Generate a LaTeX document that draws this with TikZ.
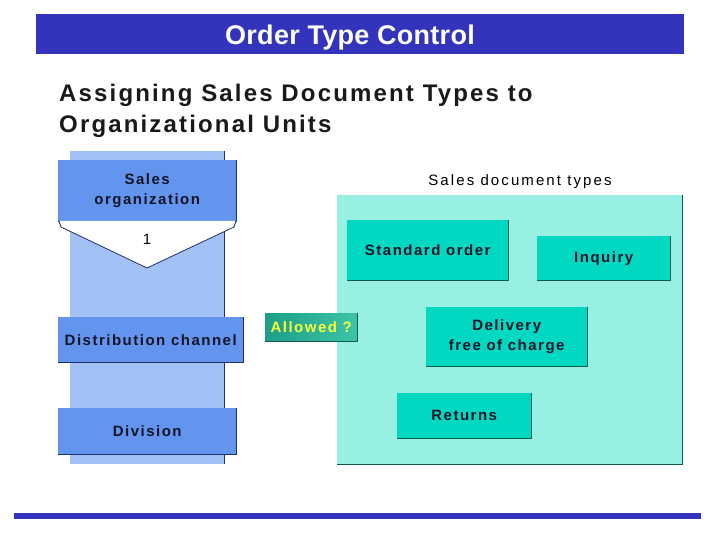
\documentclass[tikz,border=0pt]{standalone}
\usepackage{fontspec}
\setmainfont{Liberation Sans}
\newfontfamily\spacedfont[LetterSpace=10]{Liberation Sans}
\newfontfamily\labelfont[LetterSpace=14]{Liberation Sans}
\newfontfamily\subfont[LetterSpace=9]{Liberation Sans}
\newfontfamily\titlefont[LetterSpace=1]{Liberation Sans}
\definecolor{barblue}{HTML}{3333BB}
\definecolor{colblue}{HTML}{A2C2F6}
\definecolor{boxblue}{HTML}{6495EE}
\definecolor{lightaqua}{HTML}{98F0E2}
\definecolor{boxteal}{HTML}{00D8C2}
\definecolor{darkline}{HTML}{1E2E6A}
\definecolor{darkteal}{HTML}{105A50}
\definecolor{boxtext}{HTML}{141428}
\definecolor{allowL}{HTML}{1E9E88}
\definecolor{allowR}{HTML}{3CC4A6}
\definecolor{allowtext}{HTML}{F8FF3C}
\begin{document}
\begin{tikzpicture}[x=1pt,y=-1pt,
  boxtxt/.style={font=\spacedfont\bfseries\fontsize{15}{20.5}\selectfont, text=boxtext, align=center},
  bluebox/.style={boxtxt, fill=boxblue, inner sep=0pt, anchor=north west},
  tealbox/.style={boxtxt, fill=boxteal, inner sep=0pt, anchor=north west},
  subline/.style={anchor=base west, inner sep=0pt, font=\subfont\bfseries\fontsize{24}{30}\selectfont, text=black!90},
  blueshadow/.style={draw=darkline, line width=1.2pt},
  tealshadow/.style={draw=darkteal, line width=1.2pt}]
\useasboundingbox (0,0) rectangle (720,540);
\fill[white] (0,0) rectangle (720,540);
% title bar
\node[fill=barblue, minimum width=648pt, minimum height=40pt, inner sep=0pt, anchor=north west] (titlebar) at (36,14) {};
\node[anchor=base, inner sep=0pt, font=\titlefont\bfseries\fontsize{27}{30}\selectfont, text=white] (title) at (350,45) {Order Type Control};
% bottom bar
\fill[barblue] (14,513) rectangle (701,519);
% subtitle
\node[subline] (subtitle1) at (59,102) {Assigning Sales Document Types to};
\node[subline] (subtitle2) at (59,133) {Organizational Units};
% left column
\node[fill=colblue, minimum width=154pt, minimum height=313pt, inner sep=0pt, anchor=north west] (column) at (70,151) {};
\draw[darkline, line width=1pt] (column.north east) -- (column.south east);
% sales organization
\node[bluebox, minimum width=178pt, minimum height=61pt] (salesorg) at (58,160) {Sales\\organization};
\draw[blueshadow] (salesorg.south west) -- (salesorg.south east) -- (salesorg.north east);
% pentagon below
\filldraw[fill=white, draw=darkline, line width=0.8pt] (59,221) -- (61,227) -- (147,268) -- (234,227) -- (236,221);
\node[font=\fontsize{15}{16}\selectfont, text=black] (one) at (147,239) {1};
% distribution channel
\node[bluebox, minimum width=185pt, minimum height=45pt] (distchan) at (58,317) {Distribution channel};
\draw[blueshadow] (distchan.south west) -- (distchan.south east) -- (distchan.north east);
% division
\node[bluebox, minimum width=178pt, minimum height=46pt] (division) at (58,408) {Division};
\draw[blueshadow] (division.south west) -- (division.south east) -- (division.north east);
% right area
\node[fill=lightaqua, minimum width=345pt, minimum height=269pt, inner sep=0pt, anchor=north west] (doctypes) at (337,195) {};
\draw[darkteal, line width=1pt] (doctypes.north east) -- (doctypes.south east) -- (doctypes.south west);
\node[font=\labelfont\fontsize{15}{16}\selectfont, text=black, anchor=base] (doclabel) at (520,186) {Sales document types};
% allowed
\node[boxtxt, text=allowtext, left color=allowL, right color=allowR, minimum width=92pt, minimum height=28pt, inner sep=0pt, anchor=north west] (allowed) at (265,313) {Allowed ?};
\draw[draw=darkteal, line width=0.8pt] (allowed.south west) -- (allowed.south east) -- (allowed.north east);
% teal boxes
\node[tealbox, minimum width=161pt, minimum height=60pt] (standard) at (347,220) {Standard order};
\draw[tealshadow] (standard.south west) -- (standard.south east) -- (standard.north east);
\node[tealbox, minimum width=133pt, minimum height=44pt] (inquiry) at (537,236) {Inquiry};
\draw[tealshadow] (inquiry.south west) -- (inquiry.south east) -- (inquiry.north east);
\node[tealbox, minimum width=161pt, minimum height=59pt] (delivery) at (426,307) {Delivery\\free of charge};
\draw[tealshadow] (delivery.south west) -- (delivery.south east) -- (delivery.north east);
\node[tealbox, minimum width=134pt, minimum height=45pt] (returns) at (397,393) {Returns};
\draw[tealshadow] (returns.south west) -- (returns.south east) -- (returns.north east);
\end{tikzpicture}
\end{document}
